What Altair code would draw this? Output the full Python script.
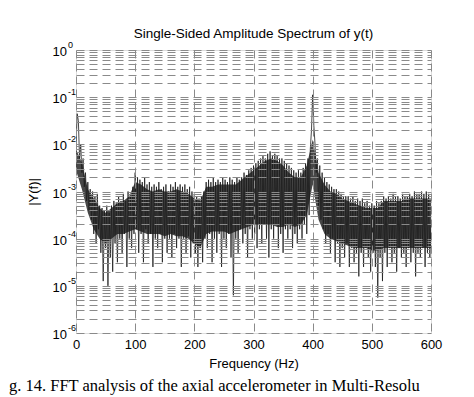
import altair as alt
import pandas as pd

# ---- data (log10 of |Y(f)|, one value every 2 Hz) ----
log_amp_000_098 = [
    -2.05, -1.35, -1.50, -2.30, -2.00, -2.60, -2.30, -2.90, -2.60, -3.20,
    -2.80, -3.40, -2.95, -3.60, -3.00, -3.90, -3.10, -4.10, -3.05, -3.80,
    -3.30, -4.30, -3.35, -4.90, -3.40, -4.20, -3.30, -5.00, -3.45, -4.40,
    -3.30, -4.70, -3.20, -4.10, -3.25, -4.50, -3.10, -4.00, -3.20, -4.30,
    -3.05, -3.90, -3.20, -4.60, -3.00, -4.00, -3.10, -4.20, -2.90, -3.90,
]
log_amp_100_198 = [
    -2.60, -3.80, -2.70, -4.30, -2.75, -3.90, -2.80, -4.50, -2.70, -3.80,
    -2.85, -4.10, -2.80, -3.90, -2.90, -4.60, -2.85, -4.00, -2.90, -4.20,
    -2.80, -3.90, -2.95, -4.50, -2.90, -4.00, -2.85, -4.30, -3.00, -4.00,
    -2.85, -4.40, -2.90, -3.90, -2.80, -4.20, -2.90, -4.00, -2.85, -4.60,
    -2.90, -4.00, -2.85, -4.30, -2.95, -3.95, -2.90, -4.40, -3.00, -4.10,
]
log_amp_200_298 = [
    -3.05, -4.30, -3.10, -4.60, -3.15, -4.20, -3.10, -4.50, -3.00, -4.00,
    -2.80, -4.20, -2.75, -3.90, -2.80, -4.50, -2.70, -4.00, -2.80, -4.30,
    -2.75, -3.90, -2.80, -4.60, -2.70, -4.00, -2.75, -4.20, -2.80, -3.90,
    -2.70, -4.40, -2.75, -5.20, -2.80, -4.00, -2.70, -4.30, -2.75, -3.80,
    -2.70, -4.10, -2.60, -3.90, -2.65, -4.40, -2.55, -3.80, -2.50, -4.00,
]
log_amp_300_398 = [
    -2.45, -3.90, -2.40, -4.20, -2.35, -3.80, -2.30, -4.10, -2.25, -3.70,
    -2.30, -4.00, -2.20, -4.40, -2.15, -3.80, -2.25, -4.00, -2.20, -3.70,
    -2.25, -4.20, -2.30, -3.90, -2.30, -4.30, -2.35, -3.80, -2.40, -4.00,
    -2.45, -3.80, -2.50, -4.20, -2.55, -3.90, -2.60, -4.10, -2.55, -3.80,
    -2.60, -4.00, -2.50, -3.70, -2.40, -3.90, -2.30, -3.50, -2.10, -1.70,
]
log_amp_400_498 = [
    -0.95, -1.60, -2.00, -2.60, -2.30, -3.30, -2.45, -3.60, -2.60, -3.80,
    -2.70, -4.10, -2.80, -3.90, -2.85, -4.30, -2.90, -4.00, -2.95, -4.50,
    -2.95, -4.10, -3.00, -4.60, -3.05, -4.20, -3.10, -4.40, -3.10, -4.10,
    -3.10, -4.60, -3.15, -4.20, -3.10, -4.50, -3.20, -4.30, -3.15, -4.80,
    -3.20, -4.30, -3.15, -4.60, -3.25, -4.20, -3.20, -4.40, -3.30, -4.70,
]
log_amp_500_600 = [
    -3.25, -4.30, -3.30, -4.60, -3.20, -5.25, -3.25, -4.40, -3.20, -4.90,
    -3.10, -4.30, -3.15, -4.60, -3.10, -4.20, -3.15, -4.50, -3.05, -4.30,
    -3.10, -4.70, -3.10, -4.20, -3.15, -4.40, -3.05, -4.30, -3.10, -4.60,
    -3.10, -4.20, -3.05, -4.50, -3.10, -4.30, -3.00, -4.80, -3.05, -4.30,
    -3.05, -4.40, -3.00, -4.20, -3.05, -4.60, -3.00, -4.30, -3.05, -4.40,
    -3.70,
]

# dense dark "mass" of the spectrum (log10), read every 10 Hz
mass_top = [
    -2.10, -2.40, -2.95, -3.15, -3.35, -3.45, -3.35, -3.25, -3.20, -3.10,
    -2.80, -2.85, -2.95, -3.00, -2.95, -3.00, -3.00, -2.95, -3.00, -3.05,
    -3.15, -3.20, -2.90, -2.90, -2.85, -2.85, -2.85, -2.85, -2.75, -2.65,
    -2.55, -2.45, -2.35, -2.30, -2.35, -2.45, -2.60, -2.70, -2.70, -2.45,
    -1.90, -2.60, -2.85, -3.00, -3.05, -3.15, -3.20, -3.25, -3.30, -3.35,
    -3.35, -3.35, -3.20, -3.20, -3.20, -3.20, -3.15, -3.15, -3.15, -3.15,
    -3.15,
]
mass_bottom = [
    -2.55, -2.95, -3.45, -3.80, -4.00, -4.10, -4.00, -3.90, -3.90, -3.85,
    -3.80, -3.85, -3.90, -3.90, -3.90, -3.95, -3.90, -3.95, -3.95, -4.00,
    -4.10, -4.20, -3.90, -3.85, -3.85, -3.85, -3.90, -3.85, -3.80, -3.75,
    -3.70, -3.70, -3.70, -3.70, -3.75, -3.75, -3.70, -3.75, -3.70, -3.50,
    -2.85, -3.60, -3.90, -4.00, -4.05, -4.10, -4.15, -4.20, -4.20, -4.20,
    -4.25, -4.25, -4.20, -4.20, -4.20, -4.20, -4.20, -4.20, -4.20, -4.20,
    -4.20,
]

log_amp = (log_amp_000_098 + log_amp_100_198 + log_amp_200_298
           + log_amp_300_398 + log_amp_400_498 + log_amp_500_600)
freq = list(range(0, 601, 2))        # FFT bins, 2 Hz apart
mass_freq = list(range(0, 601, 10))  # envelope read every 10 Hz
amp = [10 ** v for v in log_amp]

x_ticks = [0, 100, 200, 300, 400, 500, 600]
decades = [1e-6, 1e-5, 1e-4, 1e-3, 1e-2, 1e-1, 1e0]
decade_exp = ["-6", "-5", "-4", "-3", "-2", "-1", "0"]
minor_mult = [1, 2, 3, 4, 5, 6, 7, 8, 9]
y_grid = [m * d for d in decades[:-1] for m in minor_mult] + [1e0]

title_text = "Single-Sided Amplitude Spectrum of y(t)"
x_title = "Frequency (Hz)"
y_title = "|Y(f)|"
caption = "g. 14. FFT analysis of the axial accelerometer in Multi-Resolu"

FONT = "Liberation Sans"
W, H = 355, 283
GRID = "#8a8a8a"

spec = pd.DataFrame({"f": freq, "amp": amp})
mass = pd.DataFrame({"f": mass_freq,
                     "top": [10 ** v for v in mass_top],
                     "bot": [10 ** v for v in mass_bottom]})
lab = pd.DataFrame({"v": decades, "e": decade_exp})

xscale = alt.Scale(domain=[0, 600], nice=False, zero=False)
yscale = alt.Scale(type="log", domain=[1e-6, 1], nice=False)

xaxis = alt.Axis(values=x_ticks, title=x_title, grid=True, gridDash=[8, 5],
                 gridColor=GRID, gridOpacity=1, ticks=False, domain=False,
                 labelFlush=False, labelFont=FONT, labelFontSize=13,
                 labelColor="black", labelPadding=5, titleFont=FONT,
                 titleFontSize=13, titleFontWeight="normal", titleColor="black",
                 titlePadding=6, zindex=1)
yaxis = alt.Axis(values=y_grid, title=y_title, grid=True, gridDash=[8, 5],
                 gridColor=GRID, gridOpacity=1, ticks=False, domain=False,
                 labels=False, titleFont=FONT, titleFontSize=13,
                 titleFontWeight="normal", titleColor="black", titlePadding=36,
                 zindex=1)

band = alt.Chart(mass).mark_area(color="#474747", opacity=1, clip=True).encode(
    x=alt.X("f:Q", scale=xscale, axis=xaxis),
    y=alt.Y("top:Q", scale=yscale, axis=yaxis),
    y2="bot:Q",
)

line = alt.Chart(spec).mark_line(color="#1c1c1c", strokeWidth=0.8, clip=True).encode(
    x=alt.X("f:Q", scale=xscale),
    y=alt.Y("amp:Q", scale=yscale),
)

base10 = alt.Chart(lab).mark_text(font=FONT, fontSize=13, align="right",
                                  baseline="middle", dy=2, color="black").encode(
    x=alt.value(-9), y=alt.Y("v:Q", scale=yscale), text=alt.value("10"))
expo = alt.Chart(lab).mark_text(font=FONT, fontSize=9, align="left",
                                baseline="middle", dy=-5, color="black").encode(
    x=alt.value(-8), y=alt.Y("v:Q", scale=yscale), text="e:N")

ttl = alt.Chart(pd.DataFrame({"t": [title_text]})).mark_text(
    font=FONT, fontSize=13.5, align="center", baseline="middle", color="black"
).encode(x=alt.value(W / 2), y=alt.value(-16), text="t:N")

cap = alt.Chart(pd.DataFrame({"t": [caption]})).mark_text(
    font="Liberation Serif", fontSize=16.5, align="left", baseline="alphabetic",
    color="black").encode(x=alt.value(-67), y=alt.value(H + 58), text="t:N")

chart = alt.layer(band, line, base10, expo, ttl, cap).properties(
    width=W, height=H,
    padding={"left": 68, "top": 42, "right": 35, "bottom": 64},
    autosize=alt.AutoSizeParams(type="none"),
).configure_view(stroke="black", strokeWidth=1).configure(background="white")

chart.save("out.html", embed_options={"renderer": "svg", "actions": False})
